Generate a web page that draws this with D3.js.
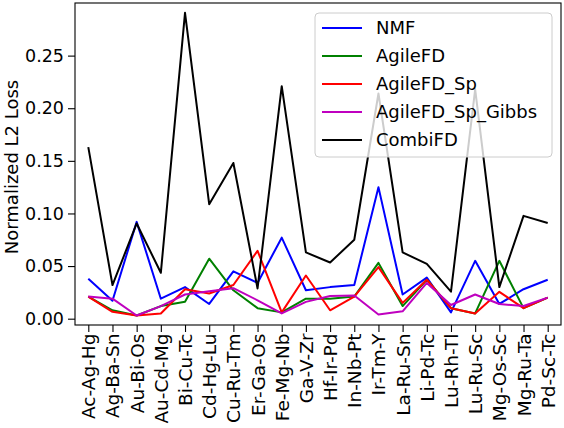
<!DOCTYPE html>
<html>
<head>
<meta charset="utf-8">
<script src="https://cdn.jsdelivr.net/npm/d3@7"></script>
<style>
  body { margin: 0; background: #fff; }
  text { font-family: "DejaVu Sans", sans-serif; }
</style>
</head>
<body>
<div id="chart"></div>
<script>
// systems on the x axis
var systems = ["Ac-Ag-Hg", "Ag-Ba-Sn", "Au-Bi-Os", "Au-Cd-Mg", "Bi-Cu-Tc", "Cd-Hg-Lu",
               "Cu-Ru-Tm", "Er-Ga-Os", "Fe-Mg-Nb", "Ga-V-Zr", "Hf-Ir-Pd", "In-Nb-Pt",
               "Ir-Tm-Y", "La-Ru-Sn", "Li-Pd-Tc", "Lu-Rh-Tl", "Lu-Ru-Sc", "Mg-Os-Sc",
               "Mg-Ru-Ta", "Pd-Sc-Tc"];

var seriesNames = ["NMF", "AgileFD", "AgileFD_Sp", "AgileFD_Sp_Gibbs", "CombiFD"];

var nmf        = [0.038, 0.017, 0.092, 0.019, 0.030, 0.014, 0.045, 0.034, 0.077, 0.027,
                  0.030, 0.032, 0.125, 0.023, 0.039, 0.006, 0.055, 0.014, 0.028, 0.037];
var agileFD    = [0.021, 0.008, 0.003, 0.012, 0.016, 0.057, 0.027, 0.010, 0.006, 0.019,
                  0.019, 0.021, 0.053, 0.012, 0.037, 0.010, 0.005, 0.055, 0.010, 0.020];
var agileFDSp  = [0.021, 0.0065, 0.003, 0.005, 0.028, 0.024, 0.032, 0.0645, 0.006, 0.041,
                  0.008, 0.021, 0.049, 0.015, 0.037, 0.010, 0.005, 0.0255, 0.010, 0.020];
var agileGibbs = [0.021, 0.019, 0.003, 0.012, 0.023, 0.026, 0.029, 0.0175, 0.005, 0.016,
                  0.0215, 0.022, 0.004, 0.007, 0.034, 0.013, 0.023, 0.014, 0.012, 0.020];
var combiFD    = [0.163, 0.032, 0.0905, 0.0436, 0.2907, 0.1088, 0.148, 0.0287, 0.221, 0.063,
                  0.0534, 0.075, 0.214, 0.063, 0.052, 0.0257, 0.218, 0.030, 0.0977, 0.091];

var yTicks = [0.00, 0.05, 0.10, 0.15, 0.20, 0.25];

var width = 564, height = 428;
var margin = {top: 3, right: 3, bottom: 103, left: 75};
var colors = ["#0000ff", "#008000", "#ff0000", "#bf00bf", "#000000"];
var allSeries = [nmf, agileFD, agileFDSp, agileGibbs, combiFD];

var svg = d3.select("#chart").append("svg")
    .attr("width", width)
    .attr("height", height);

var x = d3.scaleLinear()
    .domain([-0.55, systems.length - 1 + 0.55])
    .range([margin.left, width - margin.right]);

var y = d3.scaleLinear()
    .domain([-0.006, 0.300])
    .range([height - margin.bottom, margin.top]);

// lines
var line = d3.line()
    .x(function(d, i) { return x(i); })
    .y(function(d) { return y(d); });

svg.selectAll(".series")
    .data(allSeries)
    .enter().append("path")
    .attr("class", "series")
    .attr("d", function(d) { return line(d); })
    .attr("fill", "none")
    .attr("stroke", function(d, i) { return colors[i]; })
    .attr("stroke-width", 2)
    .attr("stroke-linejoin", "round");

// axes
var yAxis = d3.axisLeft(y)
    .tickValues(yTicks)
    .tickFormat(d3.format(".2f"))
    .tickSize(7)
    .tickPadding(4);

var gy = svg.append("g")
    .attr("transform", "translate(" + margin.left + ",0)")
    .call(yAxis);
gy.select(".domain").remove();
gy.selectAll("text").attr("font-size", "17.5px").attr("fill", "#000")
    .style("font-family", "DejaVu Sans");
gy.selectAll("line").attr("stroke", "#000").attr("stroke-width", 1.1);

var xAxis = d3.axisBottom(x)
    .tickValues(d3.range(systems.length))
    .tickFormat(function(i) { return systems[i]; })
    .tickSize(7)
    .tickPadding(4);

var gx = svg.append("g")
    .attr("transform", "translate(0," + (height - margin.bottom) + ")")
    .call(xAxis);
gx.select(".domain").remove();
gx.selectAll("line").attr("stroke", "#000").attr("stroke-width", 1.1);
gx.selectAll("text")
    .attr("font-size", "18.5px")
    .attr("fill", "#000")
    .style("font-family", "DejaVu Sans")
    .attr("transform", "rotate(-90)")
    .attr("x", -8.5)
    .attr("y", 0)
    .attr("dy", "0.35em")
    .style("text-anchor", "end");

// frame
svg.append("rect")
    .attr("x", margin.left)
    .attr("y", margin.top)
    .attr("width", width - margin.left - margin.right)
    .attr("height", height - margin.top - margin.bottom)
    .attr("fill", "none")
    .attr("stroke", "#000")
    .attr("stroke-width", 1.1);

// y label
svg.append("text")
    .attr("transform", "translate(18," + ((margin.top + height - margin.bottom) / 2 + 3) + ") rotate(-90)")
    .attr("text-anchor", "middle")
    .attr("font-size", "18px")
    .text("Normalized L2 Loss");

// legend
var lg = svg.append("g");
lg.append("rect")
    .attr("x", 315)
    .attr("y", 13)
    .attr("width", 237)
    .attr("height", 144)
    .attr("rx", 4)
    .attr("fill", "#fff")
    .attr("fill-opacity", 0.8)
    .attr("stroke", "#cccccc")
    .attr("stroke-width", 1);

var items = lg.selectAll(".item")
    .data(seriesNames)
    .enter().append("g")
    .attr("class", "item")
    .attr("transform", function(d, i) { return "translate(0," + (28 + i * 28) + ")"; });

items.append("line")
    .attr("x1", 322).attr("x2", 362)
    .attr("y1", 0).attr("y2", 0)
    .attr("stroke", function(d, i) { return colors[i]; })
    .attr("stroke-width", 2);

items.append("text")
    .attr("x", 376)
    .attr("y", 0)
    .attr("dy", "0.35em")
    .attr("font-size", "18px")
    .text(function(d) { return d; });
</script>
</body>
</html>
